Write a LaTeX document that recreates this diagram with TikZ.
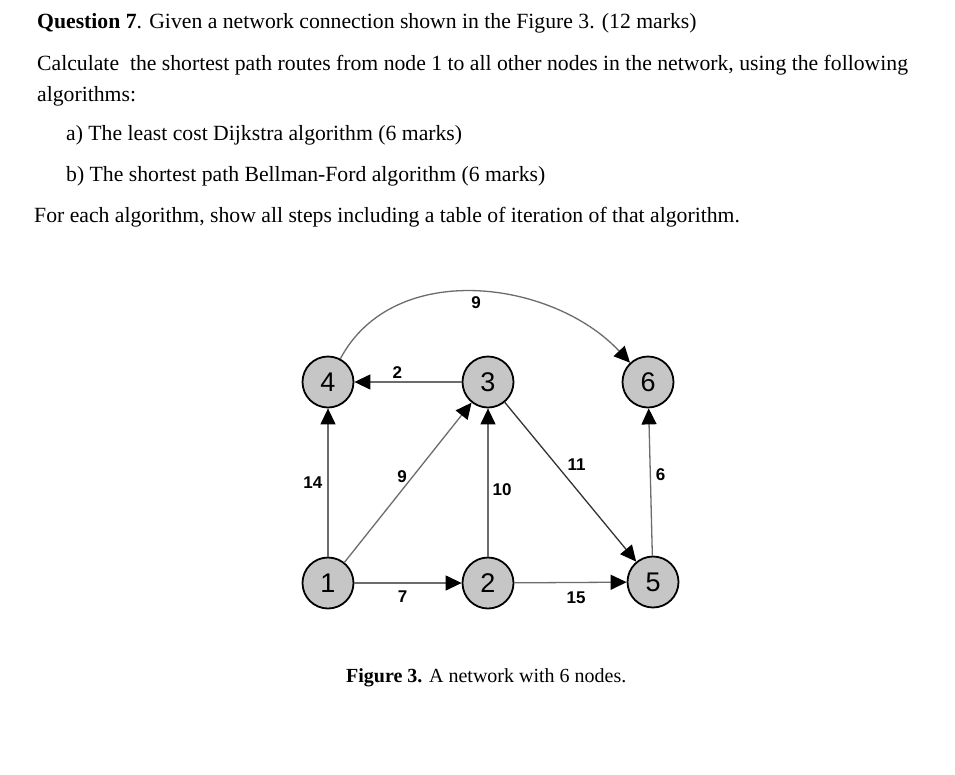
\documentclass[tikz,border=0pt]{standalone}
\usepackage{fontspec}
\setmainfont{Liberation Serif}
\newfontfamily\arialf{Liberation Sans}
\usetikzlibrary{arrows.meta}
\begin{document}
\begin{tikzpicture}[x=1pt,y=-1pt,
  txt/.style={anchor=base west,inner sep=0pt,font=\fontsize{21.7}{25}\selectfont},
  nd/.style={circle,draw=black,line width=1.8pt,fill=gray!45,minimum size=51pt,inner sep=0pt,font=\arialf\fontsize{27}{27}\selectfont},
  ed/.style={draw=gray!85!black,line width=1.3pt,-{Triangle[length=16pt,width=15pt,color=black]}},
  lb/.style={font=\arialf\bfseries\fontsize{17}{17}\selectfont,inner sep=1pt}]
\useasboundingbox (0,0) rectangle (955,774);
\fill[white] (0,0) rectangle (955,774);
\node[txt] (t1) at (37,28) {\textbf{Question 7}. Given a network connection shown in the Figure 3. (12 marks)};
\node[txt] (t2) at (37,70) {Calculate\ \ the shortest path routes from node 1 to all other nodes in the network, using the following};
\node[txt] (t3) at (37,101) {algorithms:};
\node[txt] (t4) at (66,140) {a) The least cost Dijkstra algorithm (6 marks)};
\node[txt] (t5) at (66,181) {b) The shortest path Bellman-Ford algorithm (6 marks)};
\node[txt] (t6) at (34,222) {For each algorithm, show all steps including a table of iteration of that algorithm.};
\node[txt,font=\fontsize{20}{23}\selectfont] (cap) at (346,682) {\textbf{Figure 3.} A network with 6 nodes.};

\node[nd] (n4) at (328,382) {4};
\node[nd] (n3) at (488,382) {3};
\node[nd] (n6) at (648,382) {6};
\node[nd] (n1) at (328,583) {1};
\node[nd] (n2) at (488,583) {2};
\node[nd] (n5) at (653,582) {5};

\draw[ed] (n4) to[out=62,in=133] node[lb,pos=0.5,below=3pt]{9} (n6);
\draw[ed] (n3) -- node[lb,above=2pt,pos=0.6]{2} (n4);
\draw[ed] (n1) -- node[lb,left=4pt]{14} (n4);
\draw[ed] (n1) -- node[lb,pos=0.55,left=6pt,yshift=-2pt]{9} (n3);
\draw[ed] (n2) -- node[lb,pos=0.45,right=3pt]{10} (n3);
\draw[ed,draw=black!80] (n3) -- node[lb,pos=0.45,above right=2pt]{11} (n5);
\draw[ed] (n5) -- node[lb,pos=0.55,right=4pt]{6} (n6);
\draw[ed] (n1) -- node[lb,below=6pt,pos=0.45]{7} (n2);
\draw[ed] (n2) -- node[lb,below=8pt,pos=0.55]{15} (n5);
\end{tikzpicture}
\end{document}
